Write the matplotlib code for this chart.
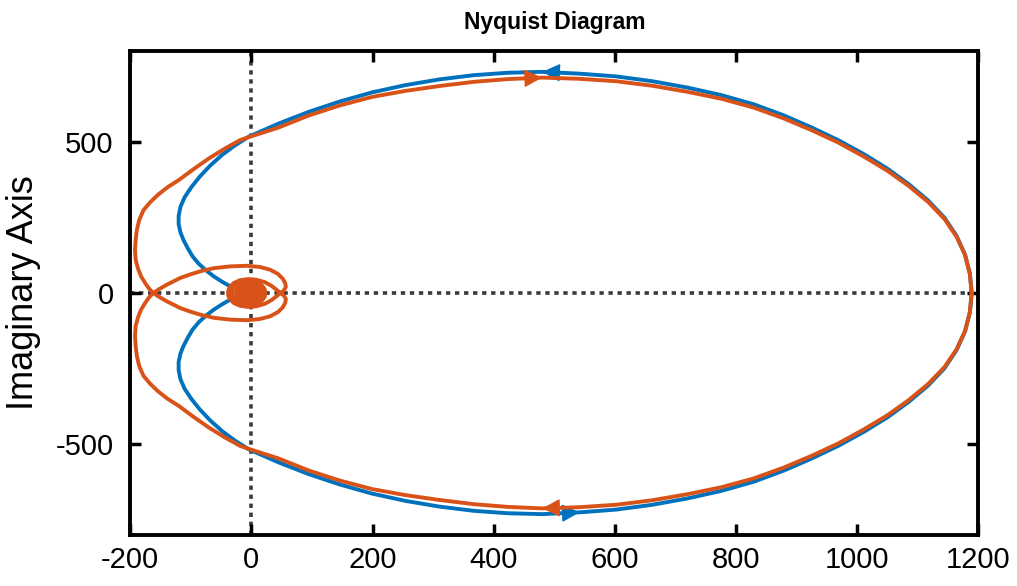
import numpy as np
import matplotlib
matplotlib.use('Agg')
import matplotlib.pyplot as plt

# upper half of each Nyquist branch, from the
# real-axis start (~1189, 0) towards the origin
blue_x = [1189, 1186, 1178, 1164, 1144, 1117, 1085, 1050, 1011, 969, 925, 879,
          829, 776, 720, 662, 602, 542, 480, 423, 367, 310, 254, 199,
          146, 95, 45, -4, -27, -48, -68, -85, -99, -110, -117, -120,
          -120, -117, -112, -105, -97, -87, -75, -62, -48, -35, -23, -11, 0]
blue_y = [0, 64, 127, 189, 249, 306, 360, 411, 459, 505, 547, 587,
          624, 654, 679, 700, 716, 725, 731, 728, 720, 706, 687, 663,
          633, 599, 560, 517, 488, 457, 421, 385, 350, 317, 285, 255,
          228, 200, 175, 148, 121, 97, 75, 55, 37, 22, 11, 4, 0]

orange_x = [1189, 1186, 1178, 1164, 1144, 1117, 1085, 1050, 1011, 969, 925, 879,
            829, 776, 720, 662, 602, 542, 480, 423, 367, 310, 254, 199,
            146, 95, 45, 0, -18, -44, -70, -95, -120, -138, -154, -167,
            -178, -185, -189, -191, -192, -191, -187, -182, -175, -169, -162, -152,
            -140, -128, -117, -100, -82, -62, -35, -7, 14, 31, 44, 52,
            56, 57, 54, 48, 42, 33, 22, 8, -6, -19, -29, -35, -38, -38,
            -37, -30, -18, -5, 8, 17, 22, 23,
            21, 14, 3, -8, -19, -27, -31, -32,
            -31, -26, -17, -7, 3, 11, 16, 18,
            16, 10, 1, -8, -16, -22, -25,
            -23, -17, -9, -1, 7, 11, 13,
            11, 6, -1, -8, -14, -17,
            -15, -9, -2, 4, 7,
            5, 0, -4, -6, -3, 0]
orange_y = [0, 63, 126, 186, 245, 301, 354, 404, 451, 497, 538, 577,
            613, 642, 665, 685, 700, 708, 712, 707, 698, 684, 668, 648,
            620, 587, 547, 518, 506, 477, 445, 410, 373, 350, 325, 300,
            274, 242, 208, 175, 142, 110, 80, 55, 32, 15, 0, -13,
            -27, -39, -50, -62, -73, -82, -88, -90, -86, -77, -63, -47,
            -32, -20, -9, 0, 10, 24, 36, 44, 46, 42, 33, 21, 8, 0,
            -12, -28, -37, -40, -36, -26, -13, 0,
            13, 25, 32, 34, 29, 19, 8, 0,
            -10, -20, -26, -28, -25, -18, -9, 0,
            10, 18, 22, 21, 16, 8, 0,
            -8, -14, -17, -16, -12, -6, 0,
            6, 10, 12, 10, 6, 0,
            -5, -8, -8, -5, 0,
            3, 4, 3, 0, -2, 0]

xticks = [-200, 0, 200, 400, 600, 800, 1000, 1200]
yticks = [-500, 0, 500]

blue_c = '#0072BD'
orange_c = '#D95319'

plt.rcParams['font.family'] = ['Liberation Sans', 'DejaVu Sans']
plt.rcParams['axes.unicode_minus'] = False

fig = plt.figure(figsize=(10.17, 5.86), dpi=100)
ax = fig.add_axes([0.128, 0.087, 0.834, 0.826])

ax.axhline(0, color='#3a3a3a', lw=2.6, dashes=(1.2, 1.3), zorder=1)
ax.axvline(0, color='#3a3a3a', lw=2.6, dashes=(1.2, 1.3), zorder=1)


def arrow(xs, ys, tip, tail, color, z):
    ax.annotate('', xy=(xs[tip], ys[tip]), xytext=(xs[tail], ys[tail]),
                arrowprops=dict(arrowstyle='-|>', color=color, lw=1,
                                mutation_scale=28, shrinkA=0, shrinkB=0),
                zorder=z)


def draw_branch(xs, ys, color, towards_origin, z):
    xs = np.array(xs, dtype=float)
    ys = np.array(ys, dtype=float)
    ax.plot(xs, ys, color=color, lw=2.8, zorder=z, solid_joinstyle='round')
    ax.plot(xs, -ys, color=color, lw=2.8, zorder=z, solid_joinstyle='round')
    # arrows sit at the top of the big loop
    top = int(np.argmax(ys))
    if towards_origin:
        arrow(xs, ys, top, top - 1, color, z + 1)
        arrow(xs, -ys, top - 1, top, color, z + 1)
    else:
        arrow(xs, ys, top, top + 1, color, z + 1)
        arrow(xs, -ys, top, top - 1, color, z + 1)


draw_branch(blue_x, blue_y, blue_c, True, 3)
draw_branch(orange_x, orange_y, orange_c, False, 5)

ax.set_xlim(-200, 1200)
ax.set_ylim(-800, 800)
ax.set_xticks(xticks)
ax.set_yticks(yticks)
ax.tick_params(direction='in', length=8, width=2.5, top=True, right=True,
               labelsize=21)
ax.tick_params(axis='x', pad=8)
ax.tick_params(axis='y', pad=12)
for s in ax.spines.values():
    s.set_linewidth(2.8)

ax.set_title('Nyquist Diagram', fontsize=16.5, fontweight='bold', pad=16)
ax.set_ylabel('Imaginary Axis', fontsize=26, labelpad=10)

fig.savefig('out.png', dpi=100)
